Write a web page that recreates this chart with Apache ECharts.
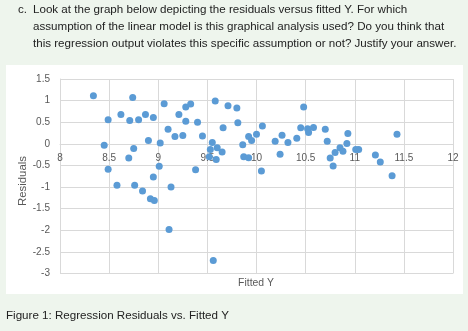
<!DOCTYPE html>
<html>
<head>
<meta charset="utf-8">
<script src="https://cdn.jsdelivr.net/npm/echarts@6.0.0/dist/echarts.min.js"></script>
<style>
  html, body { margin: 0; padding: 0; background: #eef5ed; }
  #chart { width: 468px; height: 331px; }
</style>
</head>
<body>
<div id="chart"></div>
<script>
// Fitted values (x) and their residuals (y) from the regression
const fittedY = [
  8.34, 8.74, 9.06, 8.62, 8.49, 8.71, 8.80, 8.87, 8.95, 9.10,
  9.17, 8.45, 8.75, 8.90, 9.02, 8.70, 9.01, 8.49, 8.95, 8.58,
  8.76, 8.84, 8.92, 8.96, 9.13, 9.11, 9.56, 9.21, 9.28, 9.33,
  9.28, 9.40, 9.25, 9.45, 9.58, 9.71, 9.80, 9.81, 9.66, 9.55,
  9.53, 9.60, 9.65, 9.52, 9.59, 9.38, 9.86, 9.87, 9.92, 9.92,
  9.95, 10.00, 10.06, 10.05, 10.48, 10.19, 10.26, 10.32, 10.24, 10.41,
  10.45, 10.52, 10.53, 10.58, 10.70, 10.72, 10.75, 10.78, 10.80, 10.85,
  10.88, 10.93, 10.92, 11.01, 11.04, 11.21, 11.26, 11.38, 11.43
];
const residuals = [
  1.11, 1.07, 0.93, 0.68, 0.56, 0.54, 0.56, 0.68, 0.61, 0.34,
  0.17, -0.03, -0.11, 0.08, 0.02, -0.33, -0.52, -0.59, -0.77, -0.96,
  -0.96, -1.09, -1.27, -1.31, -1.00, -1.98, -2.70, 0.68, 0.85, 0.92,
  0.52, 0.50, 0.19, 0.18, 0.99, 0.88, 0.83, 0.49, 0.37, 0.03,
  -0.13, -0.09, -0.19, -0.30, -0.36, -0.60, -0.02, -0.30, -0.32, 0.17,
  0.08, 0.22, 0.41, -0.63, 0.85, 0.06, 0.20, 0.03, -0.24, 0.13,
  0.37, 0.35, 0.26, 0.38, 0.34, 0.06, -0.33, -0.51, -0.20, -0.09,
  -0.17, 0.24, 0.01, -0.13, -0.13, -0.26, -0.42, -0.74, 0.22
];

// Axis ranges and steps
const xRange = [8, 12];
const yRange = [-3, 1.5];
const tickStep = 0.5;
const xCross = 0; // the horizontal axis crosses the vertical one at residual 0

// Question text above the figure and caption below it
const questionLines = [
  "Look at the graph below depicting the residuals versus fitted Y. For which",
  "assumption of the linear model is this graphical analysis used? Do you think that",
  "this regression output violates this specific assumption or not? Justify your answer."
];
const caption = "Figure 1: Regression Residuals vs. Fitted Y";

const points = fittedY.map((x, i) => [x, residuals[i]]);

const bodyFont = '11.6px "Liberation Sans", Arial, sans-serif';
const axisFont = '"Liberation Sans", Arial, sans-serif';
const gridColor = '#d9d9d9';
const labelColor = '#595959';

const graphics = [
  {
    type: 'rect', z: -10,
    shape: { x: 6, y: 65, width: 457, height: 229 },
    style: { fill: '#ffffff' }
  },
  {
    type: 'text', x: 18, y: 10,
    style: { text: 'c.', font: bodyFont, fill: '#222', textVerticalAlign: 'middle' }
  },
  {
    type: 'text', x: 23, y: 181, rotation: Math.PI / 2,
    style: { text: 'Residuals', font: '11.4px ' + axisFont, fill: labelColor,
             textAlign: 'center', textVerticalAlign: 'middle' }
  },
  {
    type: 'text', x: 256, y: 283,
    style: { text: 'Fitted Y', font: '10.4px ' + axisFont, fill: labelColor,
             textAlign: 'center', textVerticalAlign: 'middle' }
  },
  {
    type: 'text', x: 6, y: 316,
    style: { text: caption, font: bodyFont, fill: '#222', textVerticalAlign: 'middle' }
  }
];
questionLines.forEach((line, i) => {
  graphics.push({
    type: 'text', x: 33, y: 10 + i * 17,
    style: { text: line, font: bodyFont, fill: '#222', textVerticalAlign: 'middle' }
  });
});

const chart = echarts.init(document.getElementById('chart'), null, { renderer: 'canvas' });
chart.setOption({
  backgroundColor: '#eef5ed',
  animation: false,
  graphic: graphics,
  grid: { left: 60, top: 79, width: 393, height: 194.5 },
  xAxis: {
    type: 'value',
    position: 'bottom',
    min: xRange[0], max: xRange[1], interval: tickStep,
    axisLine: { show: true, onZero: false, lineStyle: { color: gridColor } },
    axisTick: { show: false },
    axisLabel: { color: labelColor, fontSize: 10, fontFamily: axisFont, margin: 9 },
    splitLine: { show: true, lineStyle: { color: gridColor, width: 1 } }
  },
  yAxis: {
    type: 'value',
    min: yRange[0], max: yRange[1], interval: tickStep,
    axisLine: { show: true, onZero: false, lineStyle: { color: gridColor } },
    axisTick: { show: false },
    axisLabel: { color: labelColor, fontSize: 10, fontFamily: axisFont, margin: 10 },
    splitLine: { show: true, lineStyle: { color: gridColor, width: 1 } }
  },
  series: [{
    type: 'scatter',
    data: points,
    symbol: 'circle',
    symbolSize: 7,
    itemStyle: { color: '#5b9bd5', opacity: 1 }
  }]
});

// Shift the horizontal axis (line and labels) up to where it crosses y = 0
const yAtCross = chart.convertToPixel({ yAxisIndex: 0 }, xCross);
const yAtMin = chart.convertToPixel({ yAxisIndex: 0 }, yRange[0]);
chart.setOption({ xAxis: { offset: yAtCross - yAtMin } });
</script>
</body>
</html>
